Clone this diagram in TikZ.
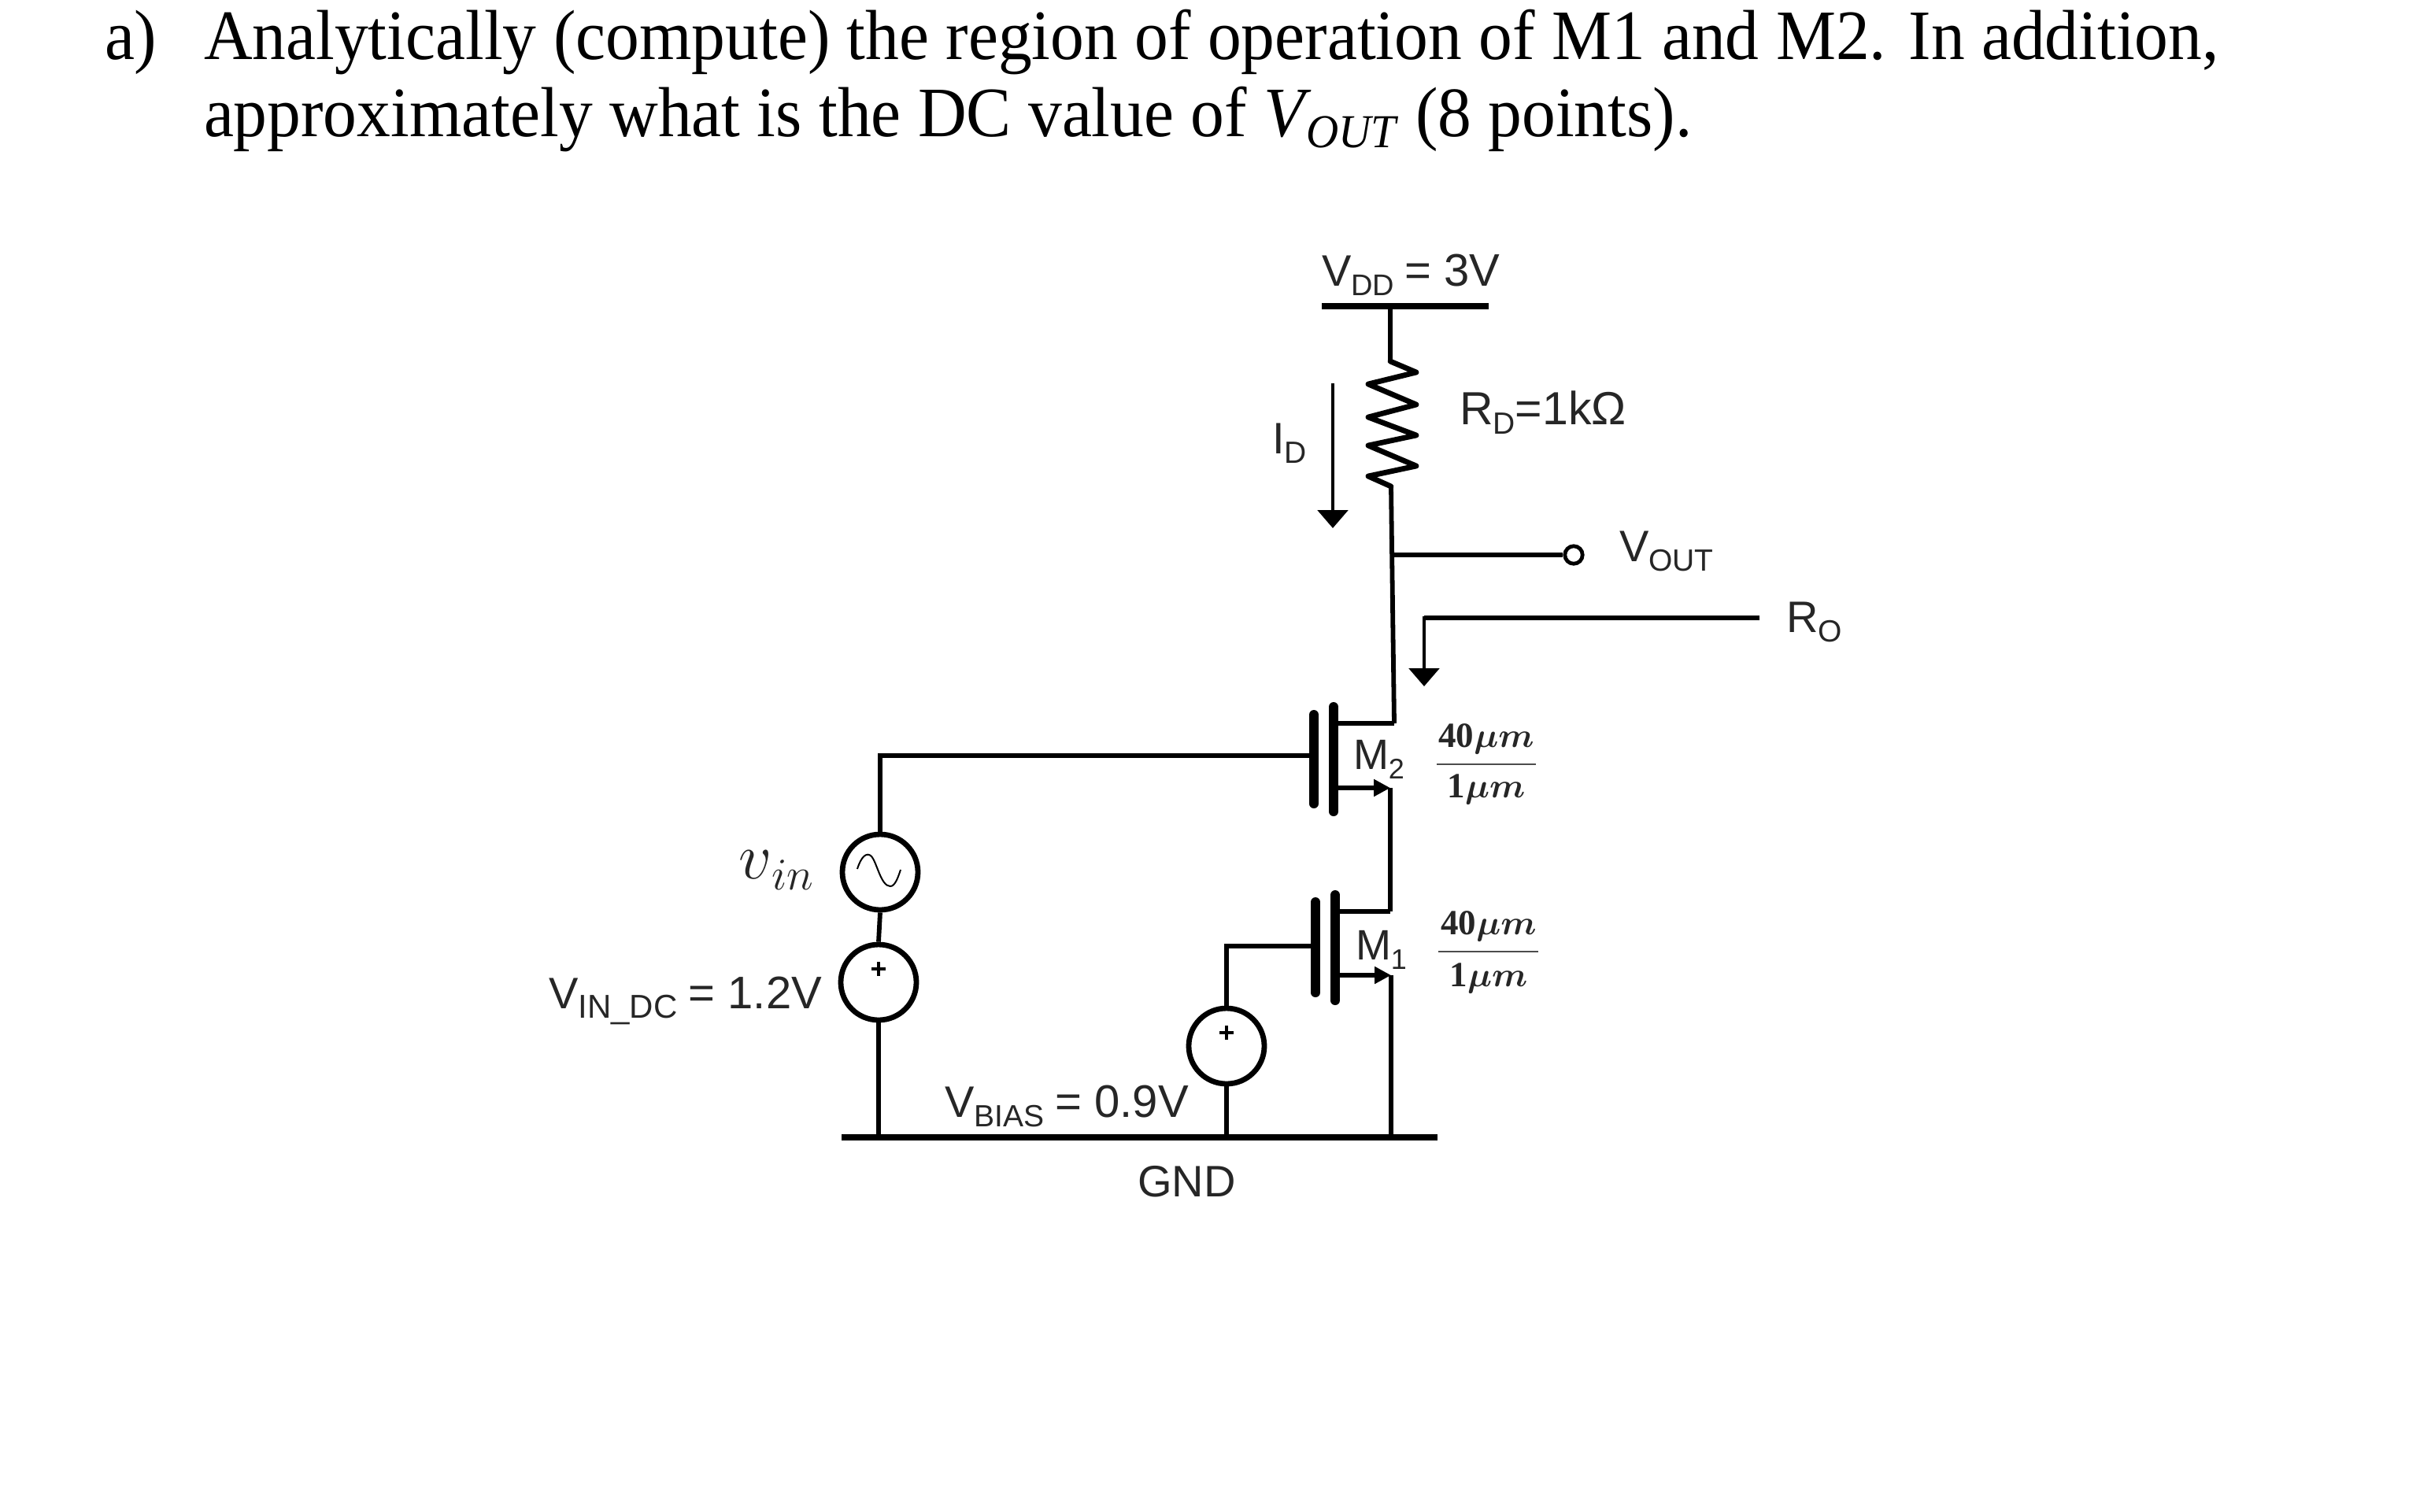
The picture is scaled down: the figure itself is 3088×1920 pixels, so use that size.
\documentclass[tikz,border=0pt]{standalone}
\usepackage{amsmath}
\usepackage{fontspec}
\setmainfont{Liberation Serif}
\newfontfamily\arialf{Liberation Sans}
\newfontfamily\headf[FakeStretch=0.95]{Liberation Serif}
\usetikzlibrary{arrows.meta}
\newcommand{\pxsize}[1]{\fontsize{\dimexpr#1pt*1/4\relax}{\dimexpr#1pt*3/10\relax}\selectfont}
\tikzset{
  x=0.25pt,y=-0.25pt,
  wire/.style={draw=black,line width=1.45pt},
  thin wire/.style={draw=black,line width=1.2pt},
  rail/.style={draw=black,line width=2pt},
  gatebar/.style={draw=black,line width=3pt,line cap=round},
  source/.style={circle,draw=black,line width=1.7pt,fill=white,minimum size=24pt,inner sep=0pt},
  terminal/.style={circle,draw=black,line width=1.2pt,fill=white,minimum size=5.6pt,inner sep=0pt},
  lab/.style={anchor=base west,inner sep=0pt,outer sep=0pt,text=black!85},
  arrow head/.style={-{Triangle[length=5.7pt,width=9.5pt]}},
  small head/.style={-{Triangle[length=5.2pt,width=5.2pt]}},
  head text/.style={anchor=base west,inner sep=0pt,outer sep=0pt,font=\pxsize{90}\headf},
  frac text/.style={anchor=base,inner sep=0pt,outer sep=0pt,text=black!85},
}
\newcommand{\sans}[3]{{\arialf\pxsize{56}#1\raisebox{-3.2pt}{\pxsize{#3}#2}}}
\begin{document}
\begin{tikzpicture}
\useasboundingbox (0,0) rectangle (3088,1920);
\fill[white] (0,0) rectangle (3088,1920);
% header
\node[head text] (qa) at (133,75) {a)};
\node[head text] (q1) at (259,75) {Analytically (compute) the region of operation of M1 and M2. In addition,};
\node[head text] (q2) at (259,173) {approximately what is the DC value of \textit{V}\hspace{-1.6pt}\raisebox{-3.7pt}{\textit{\pxsize{60}OUT}} (8 points).};
% rails
\coordinate (vddL) at (1679,389); \coordinate (vddR) at (1891,389); \coordinate (vddT) at (1766,389);
\draw[rail] (vddL) -- (vddR);
\coordinate (gndL) at (1069,1445); \coordinate (gndR) at (1826,1445);
\coordinate (gndA) at (1116,1445); \coordinate (gndB) at (1558,1445); \coordinate (gndC) at (1767,1445);
\draw[rail] (gndL) -- (gndR);
% resistor
\coordinate (rT) at (1766,459); \coordinate (rB) at (1767,618);
\draw[wire] (vddT) -- (rT);
\draw[draw=black,line width=1.7pt,line join=round,line cap=round] (rT) -- (1799,473) -- (1738,488) -- (1799,514) -- (1738,530) -- (1799,553) -- (1738,566) -- (1799,592) -- (1738,605) -- (rB);
% M2
\coordinate (m2d) at (1771,919); \coordinate (m2dc) at (1694,919);
\coordinate (m2s) at (1766,1001); \coordinate (m2sc) at (1694,1001);
\coordinate (m2g) at (1669,960);
\draw[gatebar] (1669,908) -- (1669,1021);
\draw[gatebar] (1694,898) -- (1694,1031);
\draw[wire] (m2dc) -- (m2d);
\draw[wire,small head] (m2sc) -- (m2s);
% M1
\coordinate (m1d) at (1766,1158); \coordinate (m1dc) at (1696,1158);
\coordinate (m1s) at (1767,1239); \coordinate (m1sc) at (1696,1239);
\coordinate (m1g) at (1671,1202);
\draw[gatebar] (1671,1146) -- (1671,1261);
\draw[gatebar] (1696,1137) -- (1696,1271);
\draw[wire] (m1dc) -- (m1d);
\draw[wire,small head] (m1sc) -- (m1s);
% wires
\draw[wire] (rB) -- (m2d);
\draw[wire] (m2s) -- (m1d);
\draw[wire] (m1s) -- (gndC);
\coordinate (outJ) at (1768,705);
\node[terminal] (vo) at (1999,705) {};
\draw[wire] (outJ) -- (vo);
% sources
\node[source] (vin) at (1118,1108) {};
\node[source] (vdc) at (1116,1248) {};
\node[source] (vb) at (1558,1329) {};
\coordinate (inC) at (1118,960); \coordinate (bC) at (1558,1202);
\draw[wire] (m2g) -- (inC) -- (vin.north);
\draw[wire] (vin.south) -- (vdc.north);
\draw[wire] (vdc.south) -- (gndA);
\draw[wire] (m1g) -- (bC) -- (vb.north);
\draw[wire] (vb.south) -- (gndB);
\draw[line width=0.5pt] (1089,1104) .. controls (1094,1088) and (1101,1082) .. (1107,1088) .. controls (1114,1096) and (1119,1126) .. (1131,1126) .. controls (1137,1126) and (1141,1114) .. (1144,1105);
\draw[line width=1pt] (1116,1222) -- (1116,1240) (1107,1231) -- (1125,1231);
\draw[line width=1pt] (1558,1303) -- (1558,1321) (1549,1312) -- (1567,1312);
% current arrows
\coordinate (idT) at (1693,487); \coordinate (idB) at (1693,671);
\draw[thin wire,arrow head] (idT) -- (idB);
\coordinate (roS) at (2235,785); \coordinate (roC) at (1809,785); \coordinate (roE) at (1809,872);
\draw[wire,line width=1.7pt] (roS) -- (roC);
\draw[thin wire,arrow head] (1809,783) -- (roE);
% labels
\node[lab] (lvdd) at (1679,363) {\sans{V}{DD}{38}\pxsize{58}\arialf\hspace{3.3pt}= 3V};
\node[lab] (lrd) at (1854,539) {{\arialf\pxsize{59}R\raisebox{-3.2pt}{\pxsize{39}D}=1kΩ}};
\node[lab] (lid) at (1616,576) {\sans{I}{D}{39}};
\node[lab] (lvo) at (2057,713) {\sans{V}{OUT}{39}};
\node[lab] (lro) at (2269,803) {\sans{R}{O}{39}};
\node[lab] (lm2) at (1719,977) {\arialf\pxsize{54}M\raisebox{-3pt}{\pxsize{36}2}};
\node[lab] (lm1) at (1722,1219) {\arialf\pxsize{54}M\raisebox{-3pt}{\pxsize{36}1}};
\node[lab] (lvdc) at (697,1281) {\sans{V}{IN\_DC}{42}\pxsize{58}\arialf\hspace{3.6pt}= 1.2V};
\node[lab] (lvb) at (1200,1419) {\sans{V}{BIAS}{39}\pxsize{58}\arialf\hspace{3.6pt}= 0.9V};
\node[lab] (lgnd) at (1445,1520) {\arialf\pxsize{56}GND};
\node[lab] (lvin) at (938,1116) {\pxsize{88}$v$\raisebox{-3.5pt}{\pxsize{62}$in$}};
% W/L
\node[frac text] (f2a) at (1888,949) {\pxsize{45}$\mathbf{40}\boldsymbol{\mu m}$};
\node[frac text] (f2b) at (1888,1013) {\pxsize{45}$\mathbf{1}\boldsymbol{\mu m}$};
\coordinate (f2l) at (1825,971); \coordinate (f2r) at (1951,971);
\draw[line width=0.6pt,black!70] (f2l) -- (f2r);
\node[frac text] (f1a) at (1891,1187) {\pxsize{45}$\mathbf{40}\boldsymbol{\mu m}$};
\node[frac text] (f1b) at (1891,1253) {\pxsize{45}$\mathbf{1}\boldsymbol{\mu m}$};
\coordinate (f1l) at (1827,1209); \coordinate (f1r) at (1954,1209);
\draw[line width=0.6pt,black!70] (f1l) -- (f1r);
\end{tikzpicture}
\end{document}
